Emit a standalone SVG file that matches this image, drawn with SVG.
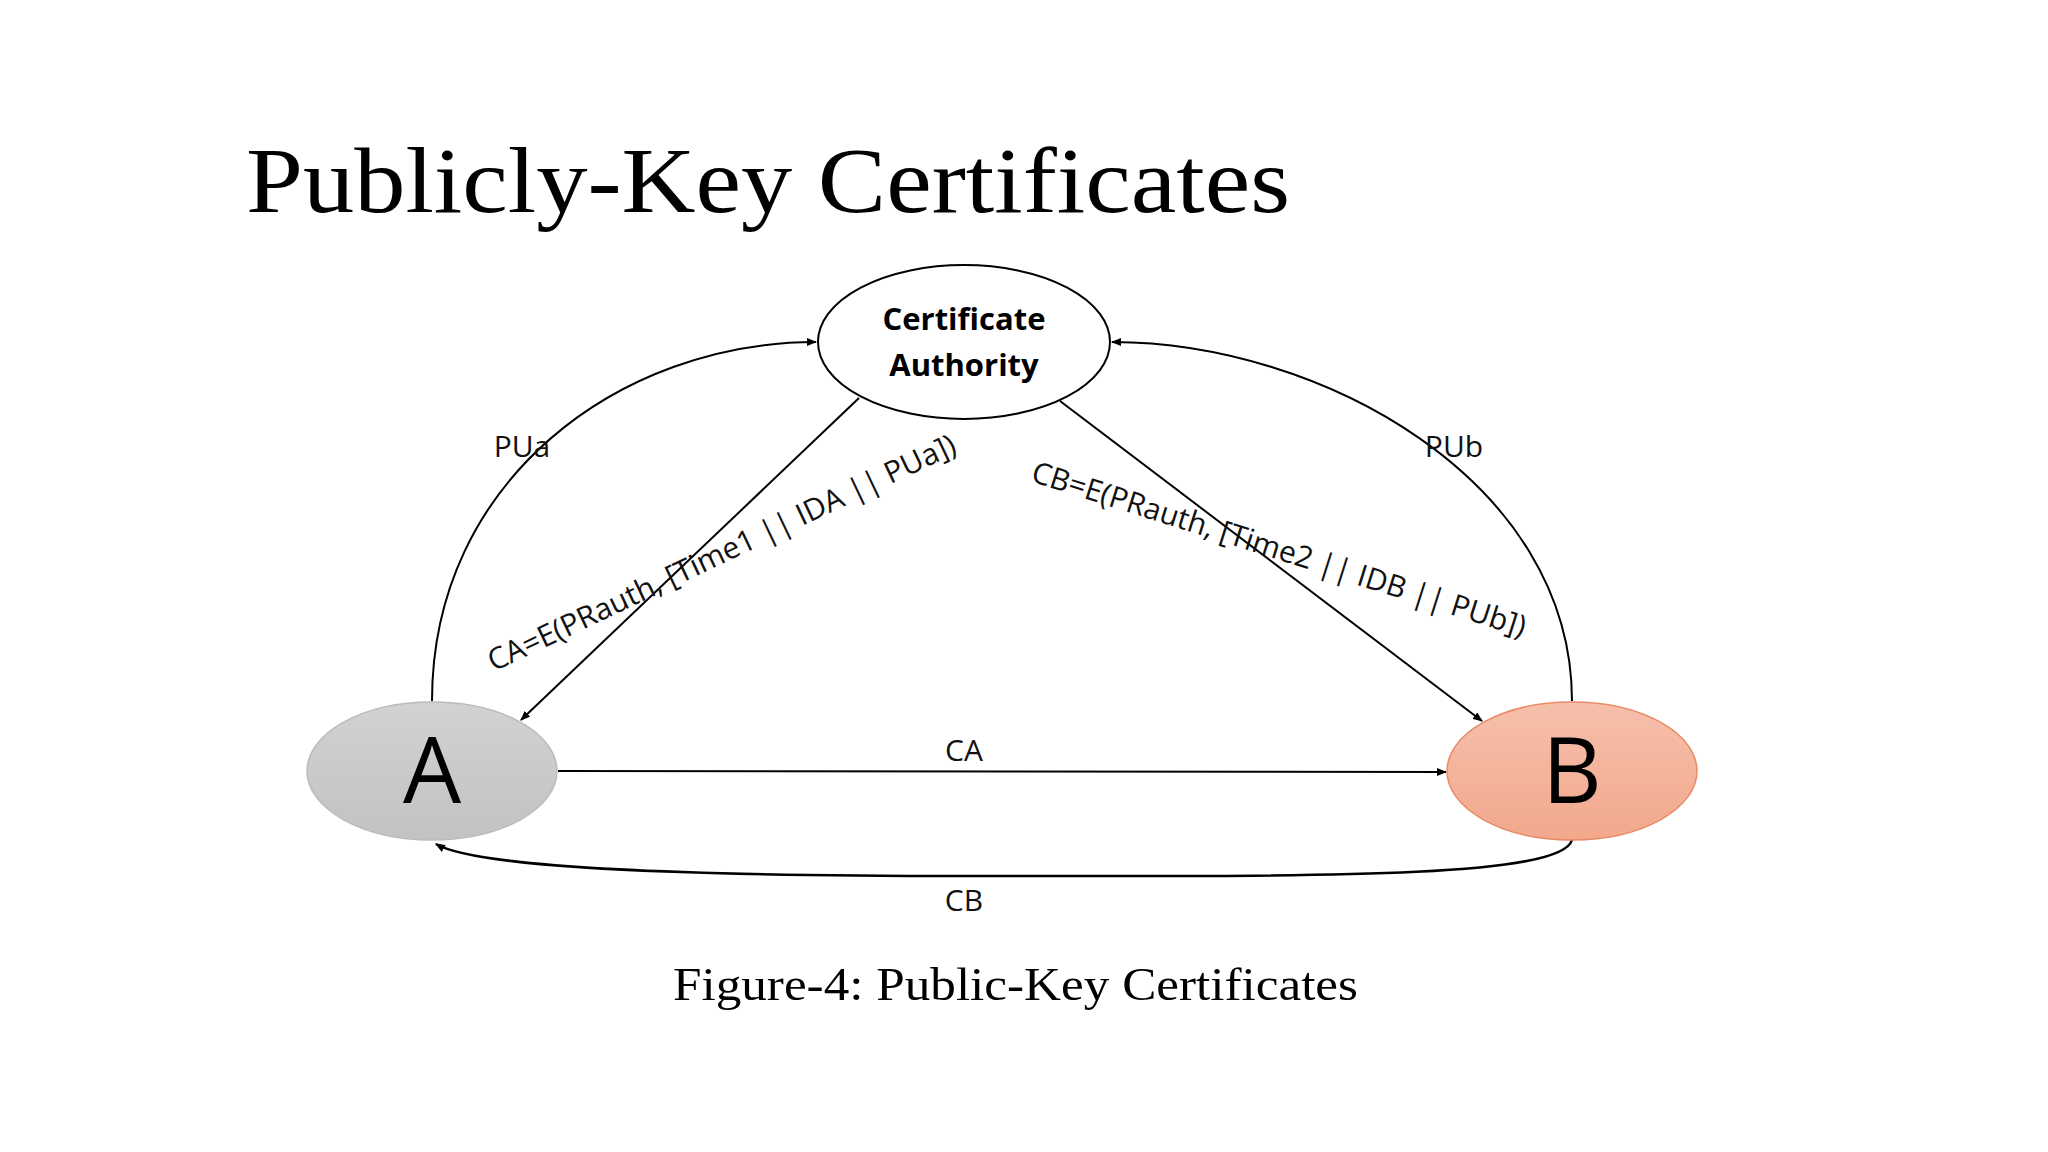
<svg xmlns="http://www.w3.org/2000/svg" width="2048" height="1152" viewBox="0 0 2048 1152">
<defs>
<marker id="ah" markerWidth="10" markerHeight="8" refX="9" refY="4" orient="auto" markerUnits="userSpaceOnUse"><path d="M0,0 L10,4 L0,8 z" fill="#000"/></marker>
<linearGradient id="ga" x1="0" y1="0" x2="0" y2="1"><stop offset="0" stop-color="#d2d2d2"/><stop offset="1" stop-color="#c2c2c2"/></linearGradient>
<linearGradient id="gb" x1="0" y1="0" x2="0" y2="1"><stop offset="0" stop-color="#f6c0ac"/><stop offset="1" stop-color="#f2a88c"/></linearGradient>
</defs>
<style>
.ln{fill:none;stroke:#000;stroke-width:2;marker-end:url(#ah)}
.lb{font-family:"Open Sans","Noto Sans",sans-serif;font-size:30px;fill:#111}
.ser{font-family:"Liberation Serif",serif;fill:#000}
</style>
<rect width="2048" height="1152" fill="#fff"/>
<text class="ser" x="246" y="212" font-size="94" textLength="1044" lengthAdjust="spacingAndGlyphs">Publicly-Key Certificates</text>
<g id="connectors">
<path class="ln" d="M432,701 C432,480 620,342 816,342"/>
<path class="ln" d="M1572,701 C1572,480 1320,342 1112,342"/>
<path class="ln" d="M859,398 L521,720"/>
<path class="ln" d="M1060,401 L1482,721"/>
<path class="ln" d="M558,771 L1446,772"/>
<path class="ln" style="stroke-width:2.5" d="M1572,840 C1560,880 1300,876 964,876 C620,876 470,864 436,844"/>
<text class="lb" x="522" y="457" text-anchor="middle">PUa</text>
<text class="lb" x="1454" y="457" text-anchor="middle">PUb</text>
<text class="lb" x="726" y="562" text-anchor="middle" transform="rotate(-25.3 726 562)">CA=E(PRauth, [Time1 || IDA || PUa])</text>
<text class="lb" x="1276" y="559" text-anchor="middle" transform="rotate(17.6 1276 559)">CB=E(PRauth, [Time2 || IDB || PUb])</text>
<text class="lb" x="964" y="761" text-anchor="middle">CA</text>
<text class="lb" x="964" y="911" text-anchor="middle">CB</text>
</g>
<g id="ca">
<ellipse cx="964" cy="342" rx="146" ry="77" fill="#fff" stroke="#000" stroke-width="2"/>
<text x="964" y="330" text-anchor="middle" font-family="Open Sans,sans-serif" font-weight="bold" font-size="31">Certificate</text>
<text x="964" y="376" text-anchor="middle" font-family="Open Sans,sans-serif" font-weight="bold" font-size="31">Authority</text>
</g>
<g id="a">
<ellipse cx="432" cy="771" rx="125" ry="69" fill="url(#ga)" stroke="#bbb" stroke-width="1.5"/>
<text x="432" y="803" text-anchor="middle" font-family="Open Sans,sans-serif" font-size="92">A</text>
</g>
<g id="b">
<ellipse cx="1572" cy="771" rx="125" ry="69" fill="url(#gb)" stroke="#e88a66" stroke-width="1.5"/>
<text x="1572" y="803" text-anchor="middle" font-family="Open Sans,sans-serif" font-size="92">B</text>
</g>
<text class="ser" x="673" y="1000" font-size="47" textLength="685" lengthAdjust="spacingAndGlyphs">Figure-4: Public-Key Certificates</text>
</svg>
